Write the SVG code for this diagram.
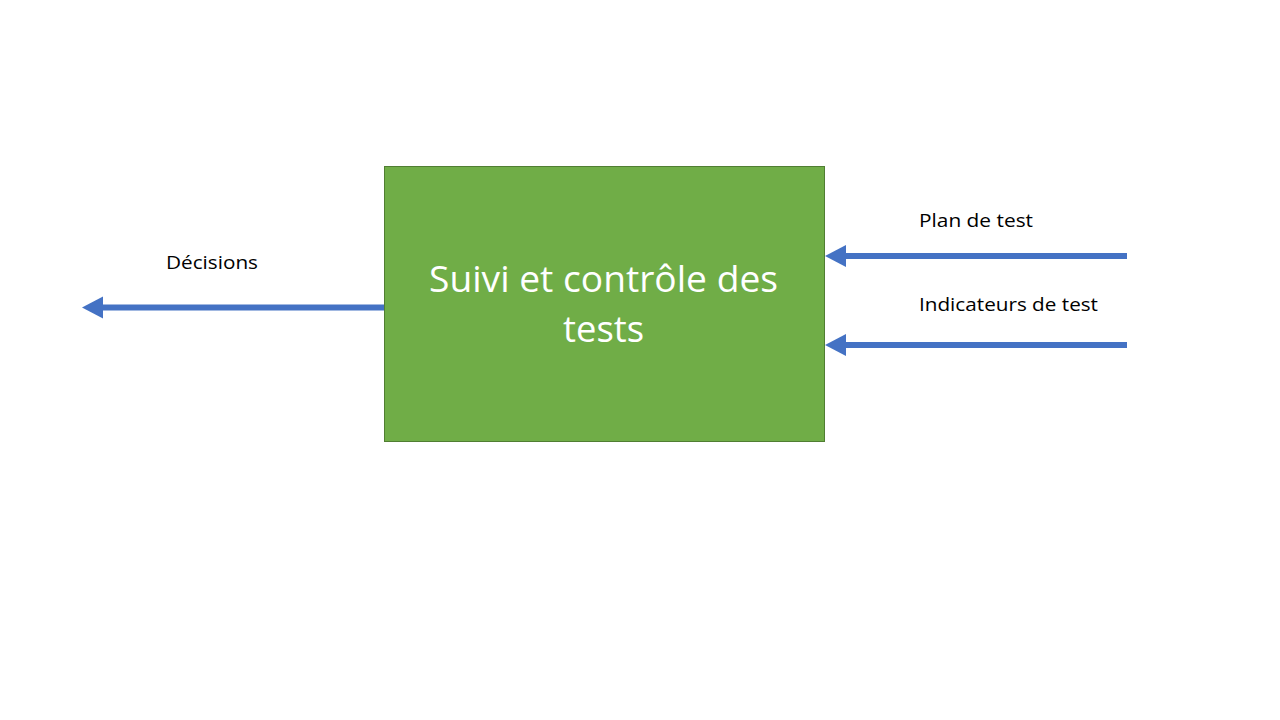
<svg xmlns="http://www.w3.org/2000/svg" width="1280" height="720" viewBox="0 0 1280 720">
  <style>
    .lbl { font-family: "Open Sans", "Noto Sans", "Liberation Sans", sans-serif; font-size: 18px; fill: #000000; }
    .main { font-family: "Open Sans", "Noto Sans", "Liberation Sans", sans-serif; font-size: 36px; fill: #ffffff; }
    .conn { stroke: #4472C4; stroke-width: 6; fill: none; }
  </style>
  <defs>
    <marker id="arrow" markerUnits="userSpaceOnUse" markerWidth="24" markerHeight="22" refX="1" refY="11" orient="auto" overflow="visible">
      <path d="M0,0 L21,11 L0,22 Z" fill="#4472C4"/>
    </marker>
  </defs>
  <rect width="1280" height="720" fill="#ffffff"/>
  <g id="connectors">
    <line class="conn" x1="384" y1="307.5" x2="102" y2="307.5" marker-end="url(#arrow)"/>
    <line class="conn" x1="1127" y1="256" x2="845" y2="256" marker-end="url(#arrow)"/>
    <line class="conn" x1="1127" y1="345" x2="845" y2="345" marker-end="url(#arrow)"/>
  </g>
  <g id="node-suivi">
    <rect x="384.5" y="166.5" width="440" height="275" fill="#70AD47" stroke="#507E32" stroke-width="1"/>
    <text class="main" x="429" y="292" textLength="349" lengthAdjust="spacingAndGlyphs">Suivi et contrôle des</text>
    <text class="main" x="563" y="342" textLength="81" lengthAdjust="spacingAndGlyphs">tests</text>
  </g>
  <g id="labels">
    <text class="lbl" x="166" y="269" textLength="92" lengthAdjust="spacingAndGlyphs">Décisions</text>
    <text class="lbl" x="919" y="227" textLength="114" lengthAdjust="spacingAndGlyphs">Plan de test</text>
    <text class="lbl" x="919" y="311" textLength="179" lengthAdjust="spacingAndGlyphs">Indicateurs de test</text>
  </g>
</svg>
